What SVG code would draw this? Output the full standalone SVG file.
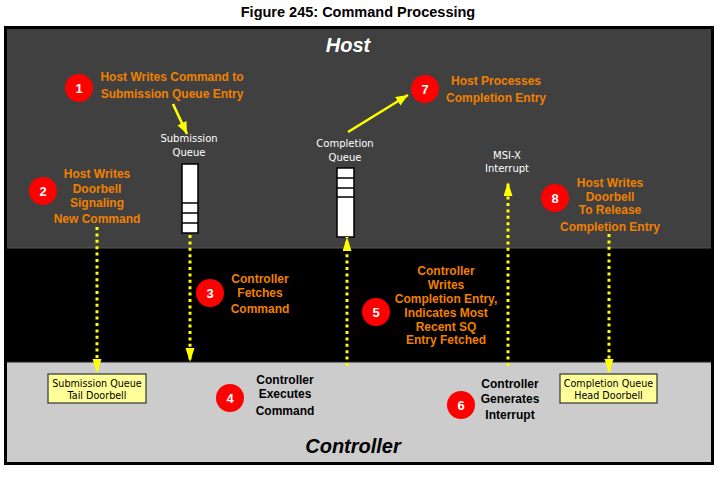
<svg xmlns="http://www.w3.org/2000/svg" width="720" height="491" viewBox="0 0 720 491">
<defs>
<style>
.title{font-family:"Liberation Sans",Arial,sans-serif;font-weight:bold;font-size:14.5px;fill:#000;text-anchor:middle}
.region{font-family:"Liberation Sans",Arial,sans-serif;font-weight:bold;font-style:italic;font-size:20px;text-anchor:middle}
.step{font-family:"Liberation Sans",Arial,sans-serif;font-weight:bold;font-size:12px;fill:#f08000;text-anchor:middle}
.stepk{font-family:"Liberation Sans",Arial,sans-serif;font-weight:bold;font-size:12px;fill:#000;text-anchor:middle}
.lbl{font-family:"DejaVu Sans",Verdana,sans-serif;font-size:10px;fill:#fff;text-anchor:middle}
.box{font-family:"DejaVu Sans",Verdana,sans-serif;font-size:9.6px;fill:#000;text-anchor:middle}
.num{font-family:"Liberation Sans",Arial,sans-serif;font-weight:bold;font-size:13px;fill:#fff;text-anchor:middle}
.badge{fill:#ff0000}
.dot{fill:none;stroke:#ffff00;stroke-width:3;stroke-dasharray:3 3.4}
.solid{fill:none;stroke:#ffff00;stroke-width:2.6}
.qbox{fill:#fff;stroke:#000;stroke-width:1.5}
.ybox{fill:#ffff99;stroke:#333;stroke-width:1.2}
</style>
<marker id="dh" markerUnits="userSpaceOnUse" markerWidth="16" markerHeight="10" refX="14" refY="4.5" orient="auto">
<path d="M0,0 L14,4.5 L0,9 z" fill="#ffff00"/>
</marker>
<marker id="sh" markerUnits="userSpaceOnUse" markerWidth="14" markerHeight="12" refX="12" refY="5" orient="auto">
<path d="M0,0 L12,5 L0,10 z" fill="#ffff00"/>
</marker>
</defs>
<rect width="720" height="491" fill="#fff"/>
<text class="title" x="358" y="17">Figure 245: Command Processing</text>

<g id="frame">
<rect x="6" y="28" width="706" height="220" fill="#404040"/>
<rect x="6" y="248" width="706" height="114" fill="#000"/>
<rect x="6" y="362" width="706" height="101" fill="#cccccc"/>
<line x1="6" y1="248" x2="712" y2="248" stroke="#555" stroke-width="1"/>
<line x1="6" y1="362" x2="712" y2="362" stroke="#222" stroke-width="1"/>
<rect x="5.5" y="27.5" width="707" height="436" fill="none" stroke="#000" stroke-width="3"/>
<text class="region" x="348" y="52" fill="#fff">Host</text>
<text class="region" x="353" y="453" fill="#000">Controller</text>
</g>

<g id="submission-queue">
<text class="lbl" x="189" y="142">Submission</text>
<text class="lbl" x="189" y="156">Queue</text>
<rect class="qbox" x="182" y="164" width="16" height="69"/>
<line x1="182" y1="203" x2="198" y2="203" stroke="#000" stroke-width="1.5"/>
<line x1="182" y1="213" x2="198" y2="213" stroke="#000" stroke-width="1.5"/>
<line x1="182" y1="223" x2="198" y2="223" stroke="#000" stroke-width="1.5"/>
</g>

<g id="completion-queue">
<text class="lbl" x="345" y="147">Completion</text>
<text class="lbl" x="345" y="161">Queue</text>
<rect class="qbox" x="337" y="168" width="17" height="69"/>
<line x1="337" y1="178" x2="354" y2="178" stroke="#000" stroke-width="1.5"/>
<line x1="337" y1="188" x2="354" y2="188" stroke="#000" stroke-width="1.5"/>
<line x1="337" y1="197" x2="354" y2="197" stroke="#000" stroke-width="1.5"/>
</g>

<g id="msix">
<text class="lbl" x="507" y="159">MSI-X</text>
<text class="lbl" x="507" y="172">Interrupt</text>
</g>

<g id="sq-tail-doorbell">
<rect class="ybox" x="48" y="374" width="98" height="29"/>
<text class="box" x="97" y="387">Submission Queue</text>
<text class="box" x="97" y="399">Tail Doorbell</text>
</g>

<g id="cq-head-doorbell">
<rect class="ybox" x="560" y="374" width="97" height="29"/>
<text class="box" x="608.5" y="387">Completion Queue</text>
<text class="box" x="608.5" y="399">Head Doorbell</text>
</g>

<g id="step1">
<circle class="badge" cx="79" cy="88" r="14"/>
<text class="num" x="79" y="92.5">1</text>
<text class="step" x="172" y="81">Host Writes Command to</text>
<text class="step" x="172" y="98">Submission Queue Entry</text>
</g>

<g id="step2">
<circle class="badge" cx="43" cy="191" r="14"/>
<text class="num" x="43" y="195.5">2</text>
<text class="step" x="97" y="178">Host Writes</text>
<text class="step" x="97" y="193">Doorbell</text>
<text class="step" x="97" y="207">Signaling</text>
<text class="step" x="97" y="223">New Command</text>
</g>

<g id="step3">
<circle class="badge" cx="210" cy="293" r="14"/>
<text class="num" x="210" y="297.5">3</text>
<text class="step" x="260" y="283">Controller</text>
<text class="step" x="260" y="297">Fetches</text>
<text class="step" x="260" y="313">Command</text>
</g>

<g id="step4">
<circle class="badge" cx="230" cy="398" r="14"/>
<text class="num" x="230" y="402.5">4</text>
<text class="stepk" x="285" y="384">Controller</text>
<text class="stepk" x="285" y="398">Executes</text>
<text class="stepk" x="285" y="415">Command</text>
</g>

<g id="step5">
<circle class="badge" cx="376" cy="312" r="14"/>
<text class="num" x="376" y="316.5">5</text>
<text class="step" x="446" y="275">Controller</text>
<text class="step" x="446" y="289">Writes</text>
<text class="step" x="446" y="303">Completion Entry,</text>
<text class="step" x="446" y="317">Indicates Most</text>
<text class="step" x="446" y="331">Recent SQ</text>
<text class="step" x="446" y="344">Entry Fetched</text>
</g>

<g id="step6">
<circle class="badge" cx="461" cy="405" r="14"/>
<text class="num" x="461" y="409.5">6</text>
<text class="stepk" x="510" y="388">Controller</text>
<text class="stepk" x="510" y="403">Generates</text>
<text class="stepk" x="510" y="419">Interrupt</text>
</g>

<g id="step7">
<circle class="badge" cx="425" cy="89" r="14"/>
<text class="num" x="425" y="93.5">7</text>
<text class="step" x="496" y="85">Host Processes</text>
<text class="step" x="496" y="102">Completion Entry</text>
</g>

<g id="step8">
<circle class="badge" cx="555" cy="198" r="14"/>
<text class="num" x="555" y="202.5">8</text>
<text class="step" x="610" y="187">Host Writes</text>
<text class="step" x="610" y="201">Doorbell</text>
<text class="step" x="610" y="214">To Release</text>
<text class="step" x="610" y="231">Completion Entry</text>
</g>

<g id="connectors">
<path class="solid" d="M173,104 L187,134" marker-end="url(#sh)"/>
<path class="solid" d="M348,132 L408,95" marker-end="url(#sh)"/>
<path class="dot" d="M97,227 L97,373" marker-end="url(#dh)"/>
<path class="dot" d="M190,235 L190,362" marker-end="url(#dh)"/>
<path class="dot" d="M347,366 L347,237" marker-end="url(#dh)"/>
<path class="dot" d="M508,366 L508,182" marker-end="url(#dh)"/>
<path class="dot" d="M609,234 L609,373" marker-end="url(#dh)"/>
</g>
</svg>
